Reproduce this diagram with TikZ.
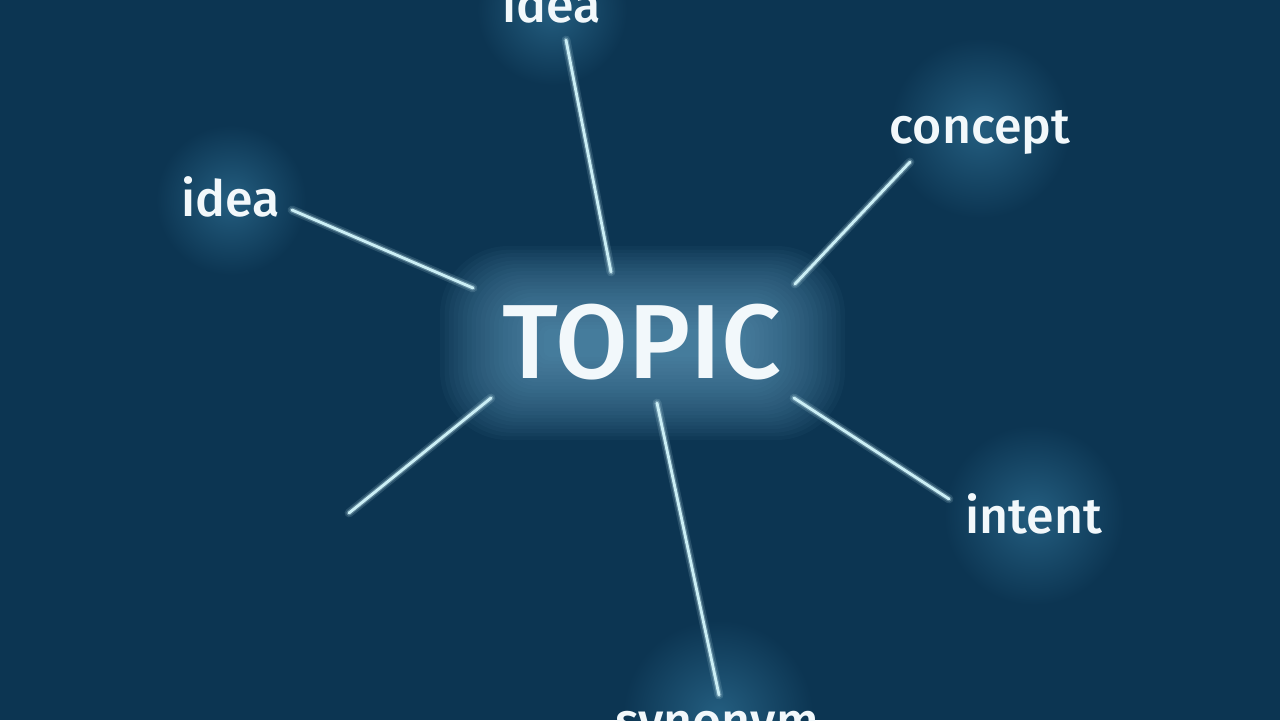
\documentclass[tikz,border=0pt]{standalone}
\usepackage{fontspec}
\setmainfont{Fira Sans}
\newfontfamily\lblfont{Fira Sans Medium}
\definecolor{bg}{HTML}{0C3552}
\definecolor{glow}{HTML}{6AA6C8}
\definecolor{halo}{HTML}{245E80}
\definecolor{linec}{HTML}{CBEFF6}
\definecolor{txt}{HTML}{F2F8FB}
\tikzset{
  lbl/.style={text=txt, anchor=base, inner sep=0pt, font=\lblfont\fontsize{28.5}{32}\selectfont},
  topic/.style={text=txt, anchor=base, inner sep=0pt, font=\lblfont\fontsize{60}{66}\selectfont},
  spoke/.style={draw=linec, line width=1.6pt, line cap=round},
  spokeglow/.style={draw=linec, line width=5pt, opacity=0.15, line cap=round},
  spokeglowb/.style={draw=linec, line width=3pt, opacity=0.3, line cap=round},
}
\begin{document}
\begin{tikzpicture}[x=0.02cm,y=-0.02cm]
\useasboundingbox (0,0) rectangle (1280,720);
\fill[bg] (0,0) rectangle (1280,720);
% halos
\foreach \cx/\cy/\r in {980/128/90, 231/200/75, 1034/515/90, 718/715/95, 552/10/75}{
  \shade[inner color=halo, outer color=bg] (\cx,\cy) circle (\r);
}
% topic glow
\foreach \i in {0,...,23}{
  \fill[glow, opacity=0.048, rounded corners={(26-\i)*1.5}]
    ({440+\i*4.5},{246+\i*3.6}) rectangle ({845-\i*4.5},{440-\i*3.6});
}
% coordinates
\coordinate (t1) at (611,272); \coordinate (e1) at (566,40);
\coordinate (t2) at (795,284); \coordinate (e2) at (910,162);
\coordinate (t3) at (473,288); \coordinate (e3) at (292,210);
\coordinate (t4) at (491,398); \coordinate (e4) at (349,513);
\coordinate (t5) at (657,403); \coordinate (e5) at (719,695);
\coordinate (t6) at (794,398); \coordinate (e6) at (949,499);
\foreach \a/\b in {t1/e1,t2/e2,t3/e3,t4/e4,t5/e5,t6/e6}{
  \draw[spokeglow] (\a) -- (\b);
  \draw[spokeglowb] (\a) -- (\b);
  \draw[spoke] (\a) -- (\b);
}
% labels
\node[topic] (topic) at (642,378) {TOPIC};
\node[lbl] (ideatop) at (552,22) {idea};
\node[lbl] (concept) at (980,143) {concept};
\node[lbl] (idealeft) at (231,216) {idea};
\node[lbl] (intent) at (1034,533) {intent};
\node[lbl] (synonym) at (717,738) {synonym};
\end{tikzpicture}
\end{document}
